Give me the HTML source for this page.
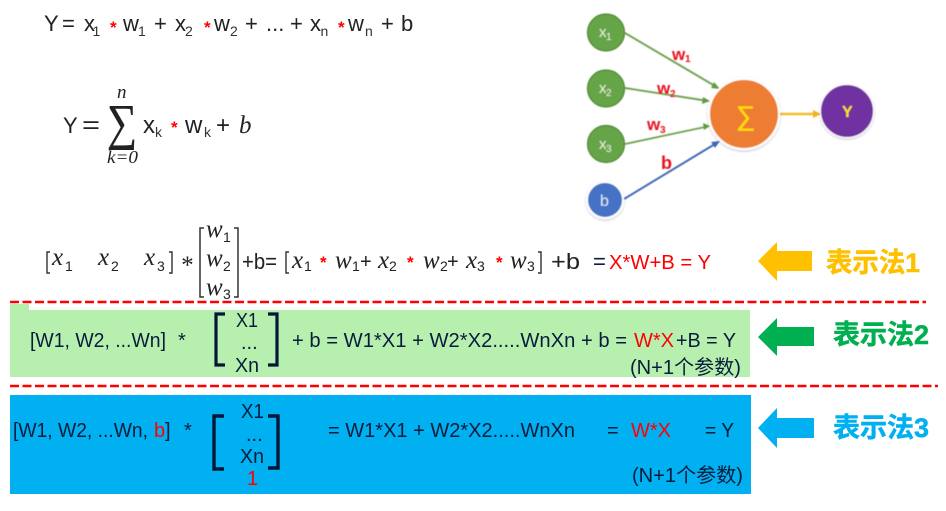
<!DOCTYPE html>
<html><head><meta charset="utf-8">
<style>
html,body{margin:0;padding:0;background:#fff;width:946px;height:511px;overflow:hidden}
svg{display:block}
text{font-family:"Liberation Sans","Noto Sans CJK SC",sans-serif;white-space:pre}
.e{font-size:22px;fill:#222}
.e2{font-size:24px;fill:#222}
.s{font-size:14px;fill:#333}
.a{font-size:17px;fill:#f00;font-weight:bold}
.m{font-family:"Liberation Serif",serif;font-style:italic;font-size:25px;fill:#222}
.ms{font-family:"Liberation Sans",sans-serif;font-size:14px;fill:#222}
.d{font-size:20px;fill:#0a1c3c}
.r{font-size:20px;fill:#f00}
.h{font-size:27px;font-weight:bold;font-family:"Liberation Sans","Noto Sans CJK SC",sans-serif;stroke-width:.5}
.c{font-size:15px;fill:#e4f0dc}
.cs{font-size:10px;fill:#e4f0dc}
.l{font-size:17px;font-weight:bold;fill:#e8101c}
.ls{font-size:10px;font-weight:bold;fill:#e8101c}
</style></head>
<body>
<svg xmlns="http://www.w3.org/2000/svg" width="946" height="511" viewBox="0 0 946 511">
<defs>
<filter id="b" x="-10%" y="-10%" width="120%" height="120%"><feGaussianBlur stdDeviation="0.5"/></filter>
<filter id="t" x="-5%" y="-5%" width="110%" height="110%"><feGaussianBlur stdDeviation="0.3"/></filter>
<filter id="sh" x="-20%" y="-20%" width="140%" height="140%"><feDropShadow dx="0" dy="1" stdDeviation="1.2" flood-color="#000" flood-opacity=".3"/></filter>
</defs>

<!-- equation 1 -->
<g filter="url(#t)">
<text class="e" x="44" y="31">Y</text><text class="e" x="62" y="31">=</text><text class="e" x="84" y="31">x</text><text class="s" x="92.5" y="36">1</text>
<text class="a" x="110" y="33">*</text><text class="e" x="123" y="31">w</text><text class="s" x="138" y="36">1</text>
<text class="e" x="154" y="31">+</text><text class="e" x="175" y="31">x</text><text class="s" x="185" y="36">2</text>
<text class="a" x="204" y="33">*</text><text class="e" x="214" y="31">w</text><text class="s" x="230" y="36">2</text>
<text class="e" x="245" y="31">+</text><text class="e" x="266" y="31">...</text><text class="e" x="290" y="31">+</text><text class="e" x="310" y="31">x</text><text class="s" x="320.5" y="36">n</text>
<text class="a" x="338" y="33">*</text><text class="e" x="348" y="31">w</text><text class="s" x="365" y="36">n</text>
<text class="e" x="381" y="31">+</text><text class="e" x="401" y="31">b</text>
</g>

<!-- equation 2 -->
<g filter="url(#t)">
<text class="e" x="63" y="133">Y</text><text class="e2" x="82" y="133" textLength="18" lengthAdjust="spacingAndGlyphs">=</text>
<text x="107" y="139" textLength="30" lengthAdjust="spacingAndGlyphs" style="font-family:'Liberation Serif',serif;font-size:50px;fill:#222;stroke:#222;stroke-width:.4">∑</text>
<text x="117" y="98" style="font-family:'Liberation Serif',serif;font-style:italic;font-size:19px;fill:#222">n</text>
<text x="107" y="163" textLength="31" lengthAdjust="spacingAndGlyphs" style="font-family:'Liberation Serif',serif;font-style:italic;font-size:18px;fill:#222">k=0</text>
<text class="e2" x="143" y="133">x</text><text class="s" x="155" y="137">k</text>
<text class="a" x="171" y="133">*</text>
<text class="e2" x="185" y="133">w</text><text class="s" x="204" y="137">k</text>
<text class="e2" x="216" y="133">+</text>
<text class="m" x="239" y="133">b</text>
</g>

<!-- matrix equation -->
<g filter="url(#t)">
<path d="M50 252H47V273H50M169 252H172V273H169" fill="none" stroke="#333" stroke-width="1.4"/>
<text class="m" x="52" y="265">x</text><text class="ms" x="65" y="271">1</text>
<text class="m" x="98" y="265">x</text><text class="ms" x="111" y="271">2</text>
<text class="m" x="144" y="265">x</text><text class="ms" x="157" y="271">3</text>
<text class="m" x="180" y="273">*</text>
<path d="M204 228H200V297H204M234 228H238V297H234" fill="none" stroke="#333" stroke-width="1.5"/>
<text class="m" x="206" y="237">w</text><text class="ms" x="223" y="242">1</text>
<text class="m" x="206" y="266">w</text><text class="ms" x="223" y="271">2</text>
<text class="m" x="206" y="295">w</text><text class="ms" x="223" y="299">3</text>
<text class="e" x="242" y="269" textLength="35" lengthAdjust="spacingAndGlyphs">+b=</text>
<path d="M289 252H286V273H289M538 252H541V273H538" fill="none" stroke="#333" stroke-width="1.4"/>
<text class="m" x="292" y="268">x</text><text class="ms" x="304" y="271">1</text>
<text class="a" x="320" y="268">*</text>
<text class="m" x="335" y="268">w</text><text class="ms" x="352" y="271">1</text>
<text class="e" x="360" y="268" style="font-size:20px">+</text>
<text class="m" x="378" y="268">x</text><text class="ms" x="389" y="271">2</text>
<text class="a" x="407" y="268">*</text>
<text class="m" x="423" y="268">w</text><text class="ms" x="440" y="271">2</text>
<text class="e" x="447" y="268" style="font-size:20px">+</text>
<text class="m" x="466" y="268">x</text><text class="ms" x="477" y="271">3</text>
<text class="a" x="496" y="268">*</text>
<text class="m" x="510" y="268">w</text><text class="ms" x="527" y="271">3</text>
<text class="e" x="551" y="269" textLength="29" lengthAdjust="spacingAndGlyphs">+b</text>
<text class="e" x="593" y="269" style="fill:#0a1c3c">=</text>
</g>
<text class="r" x="609" y="269" textLength="102" lengthAdjust="spacingAndGlyphs">X*W+B = Y</text>

<!-- dashed separators -->
<path d="M10 302H926" stroke="#f00" stroke-width="2.4" stroke-dasharray="9 3.5" fill="none"/>
<path d="M10 386H938" stroke="#f00" stroke-width="2.4" stroke-dasharray="9 3.5" fill="none"/>

<!-- green band -->
<path d="M10 304H29V310H750V377H10Z" fill="#b7f0ae"/>
<text class="d" x="30" y="347" textLength="136" lengthAdjust="spacingAndGlyphs">[W1, W2, ...Wn]</text>
<text class="d" x="178" y="347">*</text>
<path d="M225 314H216V365H225M268 314H277V365H268" fill="none" stroke="#02163a" stroke-width="3.2"/>
<text class="d" x="236" y="327" textLength="22" lengthAdjust="spacingAndGlyphs">X1</text>
<text class="d" x="241" y="349">...</text>
<text class="d" x="235" y="372" textLength="24" lengthAdjust="spacingAndGlyphs">Xn</text>
<text class="d" x="292" y="347" textLength="335" lengthAdjust="spacingAndGlyphs">+ b = W1*X1 + W2*X2.....WnXn + b =</text>
<text class="r" x="634" y="347" textLength="40" lengthAdjust="spacingAndGlyphs">W*X</text>
<text class="d" x="676" y="347" textLength="60" lengthAdjust="spacingAndGlyphs">+B = Y</text>
<text class="d" x="630" y="374" textLength="111" lengthAdjust="spacingAndGlyphs">(N+1个参数)</text>

<!-- blue band -->
<rect x="10" y="395" width="741" height="99" fill="#00b0f0"/>
<text class="d" x="13" y="437" textLength="135" lengthAdjust="spacingAndGlyphs">[W1, W2, ...Wn,</text>
<text class="r" x="154" y="437">b</text><text class="d" x="165" y="437">]</text>
<text class="d" x="184" y="437">*</text>
<path d="M224 416H214V469H224M268 416H278V468H268" fill="none" stroke="#02163a" stroke-width="3.4"/>
<text class="d" x="241" y="418" textLength="23" lengthAdjust="spacingAndGlyphs">X1</text>
<text class="d" x="246" y="441">...</text>
<text class="d" x="240" y="463" textLength="24" lengthAdjust="spacingAndGlyphs">Xn</text>
<text class="r" x="247" y="485">1</text>
<text class="d" x="328" y="437" textLength="247" lengthAdjust="spacingAndGlyphs">= W1*X1 + W2*X2.....WnXn</text>
<text class="d" x="607" y="437">=</text>
<text class="r" x="631" y="437" textLength="40" lengthAdjust="spacingAndGlyphs">W*X</text>
<text class="d" x="705" y="437" textLength="29" lengthAdjust="spacingAndGlyphs">= Y</text>
<text class="d" x="632" y="482" textLength="111" lengthAdjust="spacingAndGlyphs">(N+1个参数)</text>

<!-- block arrows -->
<polygon points="758,261 777,242 777,251 812,251 812,271 777,271 777,281" fill="#ffc000"/>
<polygon points="758,337 777,318 777,327 814,327 814,346 777,346 777,356" fill="#00b050"/>
<polygon points="758,428 777,408 777,418 814,418 814,438 777,438 777,448" fill="#00b0f0"/>
<text class="h" x="826" y="272" textLength="94" lengthAdjust="spacingAndGlyphs" fill="#ffc000" stroke="#ffc000">表示法1</text>
<text class="h" x="833" y="344" textLength="96" lengthAdjust="spacingAndGlyphs" fill="#00b050" stroke="#00b050">表示法2</text>
<text class="h" x="833" y="437" textLength="96" lengthAdjust="spacingAndGlyphs" fill="#00b0f0" stroke="#00b0f0">表示法3</text>

<!-- neuron -->
<g filter="url(#b)">
<g fill="none" stroke-width="1.9">
<path d="M625 33L715 86" stroke="#70a352"/>
<path d="M625 88L705 100.5" stroke="#70a352"/>
<path d="M625 144L705 127" stroke="#70a352"/>
<path d="M624 199L715 144" stroke="#3d68b5"/>
<path d="M779 114H817" stroke="#f0be2a" stroke-width="2.6"/>
</g>
<polygon points="720,89 711,88 714,82" fill="#5f9c3f"/>
<polygon points="710,101 702,104 703,97" fill="#5f9c3f"/>
<polygon points="710,126 703,123 704,130" fill="#5f9c3f"/>
<polygon points="720,141 711,142 715,148" fill="#3d68b5"/>
<polygon points="821,114 813,110 813,118" fill="#f0b323"/>
<g stroke="#4f8a35" stroke-width="1.2">
<circle cx="606" cy="32.5" r="18.5" fill="#66a546"/>
<circle cx="606" cy="88.5" r="18.5" fill="#66a546"/>
<circle cx="606" cy="144" r="18.5" fill="#66a546"/>
</g>
<g stroke="#fff" stroke-width="2" filter="url(#sh)">
<circle cx="605" cy="200" r="18" fill="#4472c4"/>
<circle cx="744" cy="114" r="35" fill="#ed7d31"/>
<circle cx="847" cy="111" r="26.5" fill="#7030a0" stroke-width="1"/>
</g>
<text class="c" x="599" y="37">x</text><text class="cs" x="606" y="40">1</text>
<text class="c" x="599" y="93">x</text><text class="cs" x="606" y="96">2</text>
<text class="c" x="599" y="149">x</text><text class="cs" x="606" y="152">3</text>
<text x="600" y="206" style="font-size:16px;fill:#dfe6f5">b</text>
<text x="736" y="125" style="font-size:27px;fill:#ffe000;stroke:#ffe000;stroke-width:.3">∑</text>
<text x="842" y="117" style="font-size:16px;font-weight:bold;fill:#ffe000">Y</text>
<text class="l" x="672" y="60">w</text><text class="ls" x="685" y="62">1</text>
<text class="l" x="657" y="94">w</text><text class="ls" x="670" y="97">2</text>
<text class="l" x="647" y="130">w</text><text class="ls" x="660" y="133">3</text>
<text x="661" y="169" style="font-size:18px;font-weight:bold;fill:#e8101c">b</text>
</g>
</svg>
</body></html>
